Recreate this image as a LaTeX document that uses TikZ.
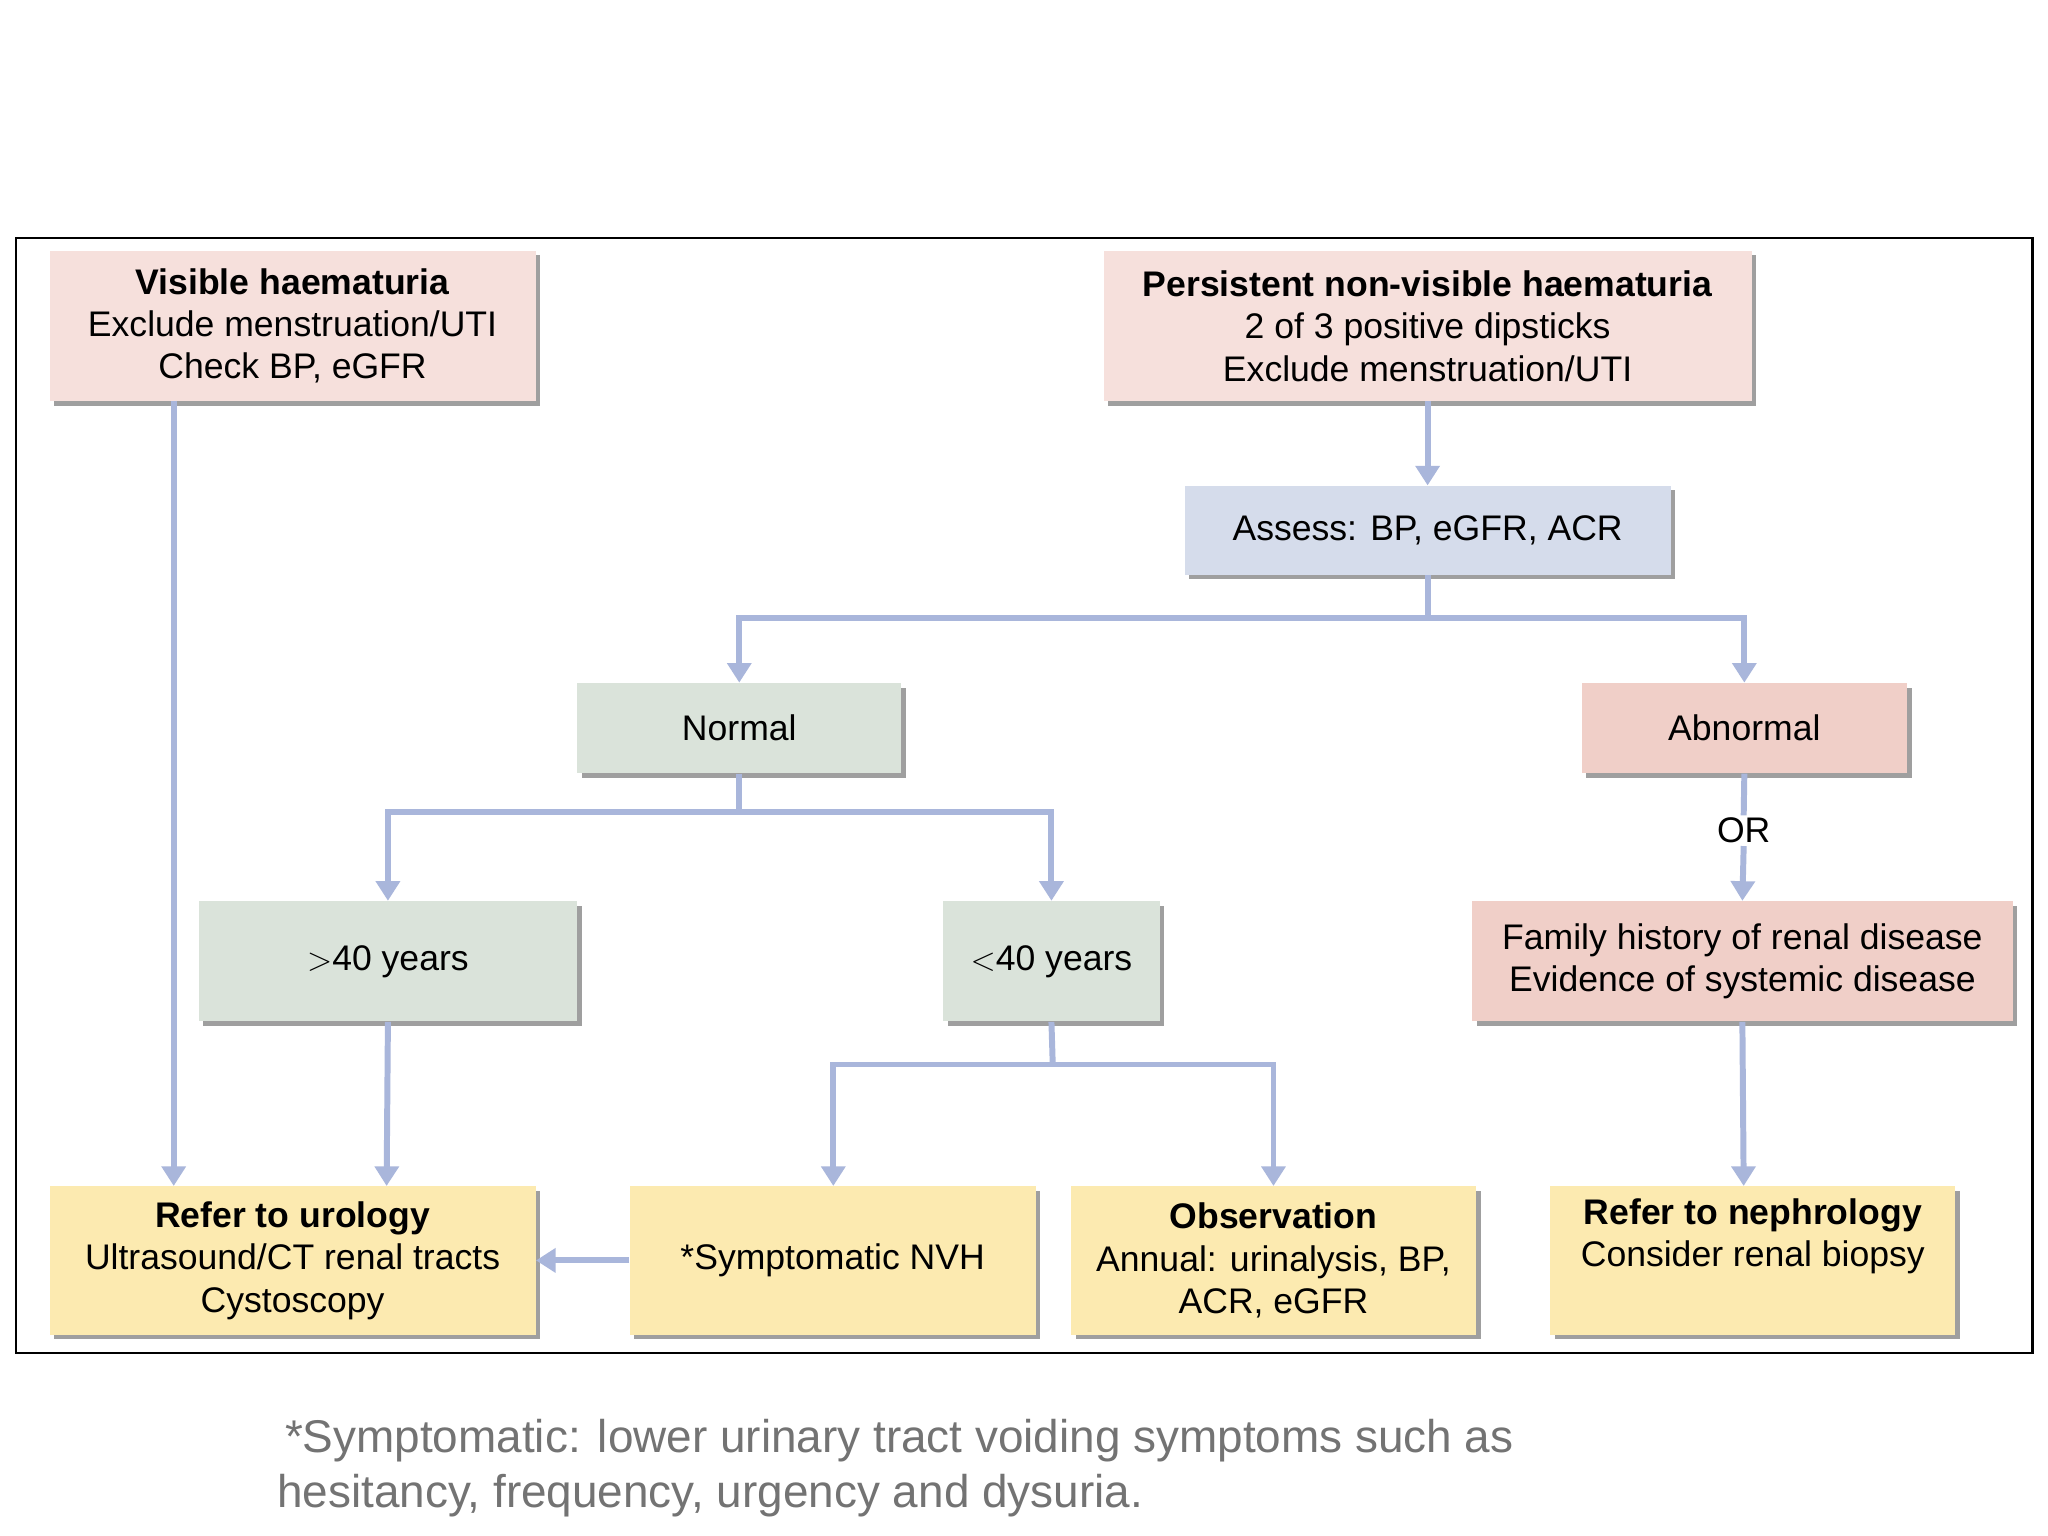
\documentclass[tikz,border=0pt]{standalone}
\usepackage{fontspec}
\setmainfont{Liberation Sans}
\usetikzlibrary{arrows.meta,shadows}
\definecolor{lnk}{HTML}{A9B6DB}
\definecolor{pk}{HTML}{F6E0DC}
\definecolor{pk2}{HTML}{F0CFC8}
\definecolor{bl}{HTML}{D5DCEB}
\definecolor{gr}{HTML}{DAE3DA}
\definecolor{yl}{HTML}{FCEAB0}
\begin{document}
\begin{tikzpicture}[x=0.02cm,y=-0.02cm,
  box/.style={draw=none,align=center,inner sep=0pt,font=\fontsize{15.5}{18.5}\selectfont,
    general shadow={shadow xshift=0.07cm,shadow yshift=-0.07cm,fill=gray!75,opacity=1}},
  ln/.style={draw=lnk,line width=2.6pt},
  ar/.style={ln,-{Triangle[width=0.36cm,length=0.3cm]}}]
\useasboundingbox (0,0) rectangle (1568,1176);
\fill[white] (0,0) rectangle (1568,1176);
\draw[line width=1pt] (12,182) rectangle (1556,1036);
\def\bx#1#2#3#4#5#6#7{\node[box,fill=#6,minimum width=(#4-#2)*0.02cm,minimum height=(#5-#3)*0.02cm] (#1) at ({(#2+#4)/2},{(#3+#5)/2}) {#7};}
\bx{vis}{38}{192}{410}{307}{pk}{\textbf{Visible haematuria}\\Exclude menstruation/UTI\\Check BP, eGFR}
\bx{per}{845}{192}{1341}{307}{pk}{\textbf{Persistent non-visible haematuria}\\2 of 3 positive dipsticks\\Exclude menstruation/UTI}
\bx{ass}{907}{372}{1279}{440}{bl}{Assess: BP, eGFR, ACR}
\bx{nor}{442}{523}{690}{592}{gr}{Normal}
\bx{abn}{1211}{523}{1460}{592}{pk2}{Abnormal}
\bx{gt}{152}{690}{442}{782}{gr}{$>$40 years}
\bx{lt}{722}{690}{888}{782}{gr}{$<$40 years}
\bx{fam}{1127}{690}{1541}{782}{pk2}{Family history of renal disease\\Evidence of systemic disease}
\bx{uro}{38}{908}{410}{1022}{yl}{\textbf{Refer to urology}\\Ultrasound/CT renal tracts\\Cystoscopy}
\bx{sym}{482}{908}{793}{1022}{yl}{*Symptomatic NVH}
\bx{obs}{820}{908}{1130}{1022}{yl}{\textbf{Observation}\\Annual: urinalysis, BP,\\ACR, eGFR}
\bx{nep}{1187}{908}{1497}{1022}{yl}{\textbf{Refer to nephrology}\\Consider renal biopsy\\\strut}
\node[font=\fontsize{15.5}{18.5}\selectfont,inner sep=1pt] (or) at (1335,636) {OR};
\draw[ar] (133,307) -- (133,908);
\draw[ar] (per.south) -- (ass.north);
\draw[ln] (ass.south) -- (1093,473);
\draw[ar] (1093,473) -| (nor.north);
\draw[ar] (1093,473) -| (abn.north);
\draw[ln] (abn.south) -- (or.north);
\draw[ar] (or.south) -- (fam.north);
\draw[ln] (nor.south) -- (566,622);
\draw[ar] (566,622) -| (gt.north);
\draw[ar] (566,622) -| (lt.north);
\draw[ar] (gt.south) -- (296,908);
\draw[ln] (lt.south) -- (806,815);
\draw[ar] (806,815) -| (638,908);
\draw[ar] (806,815) -| (975,908);
\draw[ar] (fam.south) -- (1335,908);
\draw[ar] (sym.west) -- (uro.east);
\node[anchor=north west,align=left,text=gray!90!black,font=\fontsize{20}{24}\selectfont,inner sep=0pt] (fn) at (212,1086) {\,*Symptomatic: lower urinary tract voiding symptoms such as\\hesitancy, frequency, urgency and dysuria.};
\end{tikzpicture}
\end{document}
